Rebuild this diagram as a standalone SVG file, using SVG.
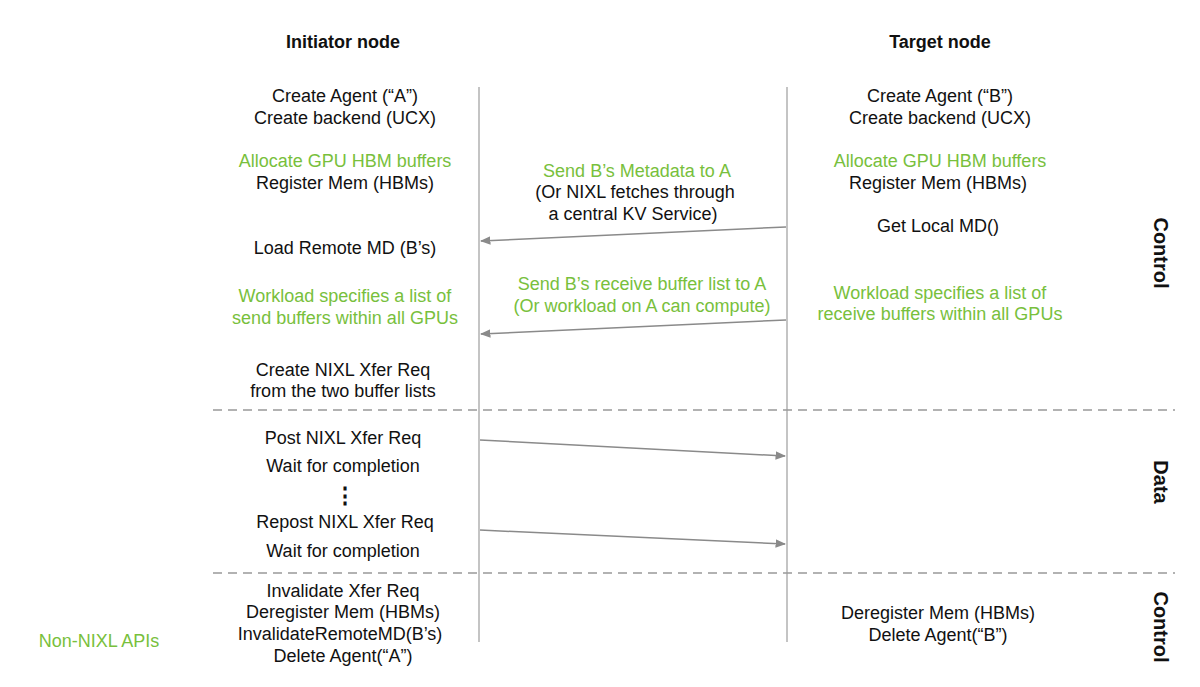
<svg xmlns="http://www.w3.org/2000/svg" width="1200" height="687" viewBox="0 0 1200 687">
<style>
text{font-family:"Liberation Sans","Noto Sans",sans-serif;font-size:18px;fill:#111;text-anchor:middle}
.g{fill:#78c03c}
.h{font-weight:bold}
.life{stroke:#b0b0b0;stroke-width:1.5}
.arr{stroke:#8a8a8a;stroke-width:1.5;fill:none;marker-end:url(#ah)}
.sep{stroke:#999;stroke-width:1.5;stroke-dasharray:9 6}
.side{font-weight:bold;font-size:20px}
</style>
<defs><marker id="ah" viewBox="0 0 10 10" refX="9" refY="5" markerWidth="7" markerHeight="7" orient="auto"><path d="M0,1 L10,5 L0,9 z" fill="#8a8a8a"/></marker></defs>
<rect width="1200" height="687" fill="#fff"/>
<g id="lifelines">
<line class="life" x1="479" y1="87" x2="479" y2="642"/>
<line class="life" x1="787" y1="87" x2="787" y2="642"/>
<line class="sep" x1="213" y1="410" x2="1175" y2="410"/>
<line class="sep" x1="213" y1="573" x2="1175" y2="573"/>
</g>
<g id="initiator">
<text class="h" x="343" y="48">Initiator node</text>
<text x="345" y="102">Create Agent (“A”)</text>
<text x="345" y="124">Create backend (UCX)</text>
<text class="g" x="345" y="167">Allocate GPU HBM buffers</text>
<text x="345" y="189">Register Mem (HBMs)</text>
<text x="345" y="254">Load Remote MD (B’s)</text>
<text class="g" x="345" y="302">Workload specifies a list of</text>
<text class="g" x="345" y="324">send buffers within all GPUs</text>
<text x="343" y="376">Create NIXL Xfer Req</text>
<text x="343" y="397">from the two buffer lists</text>
<text x="343" y="444">Post NIXL Xfer Req</text>
<text x="343" y="472">Wait for completion</text>
<text x="345" y="503" style="font-size:22px;font-weight:bold">⋮</text>
<text x="345" y="528">Repost NIXL Xfer Req</text>
<text x="343" y="557">Wait for completion</text>
<text x="343" y="597">Invalidate Xfer Req</text>
<text x="343" y="618">Deregister Mem (HBMs)</text>
<text x="340" y="640">InvalidateRemoteMD(B’s)</text>
<text x="343" y="662">Delete Agent(“A”)</text>
</g>
<g id="target">
<text class="h" x="940" y="48">Target node</text>
<text x="940" y="102">Create Agent (“B”)</text>
<text x="940" y="124">Create backend (UCX)</text>
<text class="g" x="940" y="167">Allocate GPU HBM buffers</text>
<text x="938" y="189">Register Mem (HBMs)</text>
<text x="938" y="232">Get Local MD()</text>
<text class="g" x="940" y="299">Workload specifies a list of</text>
<text class="g" x="940" y="320">receive buffers within all GPUs</text>
<text x="938" y="619">Deregister Mem (HBMs)</text>
<text x="938" y="641">Delete Agent(“B”)</text>
</g>
<g id="messages">
<text class="g" x="637" y="177">Send B’s Metadata to A</text>
<text x="635" y="198">(Or NIXL fetches through</text>
<text x="633" y="220">a central KV Service)</text>
<text class="g" x="642" y="290">Send B’s receive buffer list to A</text>
<text class="g" x="642" y="312">(Or workload on A can compute)</text>
</g>
<g id="connectors">
<path class="arr" d="M786,227 L481,241"/>
<path class="arr" d="M786,320 L481,334"/>
<path class="arr" d="M480,440 L785,456"/>
<path class="arr" d="M480,530 L785,544"/>
</g>
<g id="labels">
<text class="side" transform="translate(1154,253) rotate(90)">Control</text>
<text class="side" transform="translate(1154,482) rotate(90)">Data</text>
<text class="side" transform="translate(1154,627) rotate(90)">Control</text>
<text class="g" x="99" y="647">Non-NIXL APIs</text>
</g>
</svg>
